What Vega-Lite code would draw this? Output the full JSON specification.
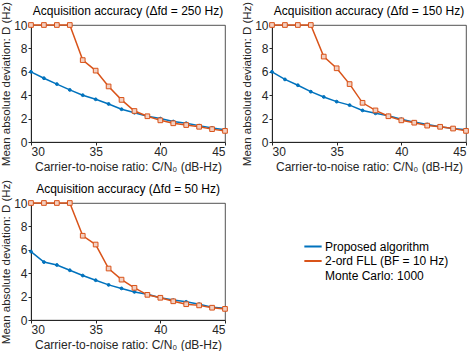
{
  "$schema": "https://vega.github.io/schema/vega-lite/v6.json",
  "padding": 0,
  "background": "white",
  "config": {
    "font": "Liberation Sans",
    "view": {"stroke": "#262626", "strokeWidth": 0.8},
    "axis": {"grid": false, "domainColor": "#262626", "tickColor": "#262626", "labelColor": "#262626", "titleColor": "#262626", "labelFontSize": 12, "titleFontSize": 12, "titleFontWeight": "normal", "tickSize": 3, "labelPadding": 1},
    "axisY": {"titleFontSize": 11.5, "titlePadding": 2},
    "title": {"fontSize": 12, "fontWeight": "normal", "color": "#000000", "offset": 6, "dy": 23},
    "legend": {"labelFontSize": 12, "labelColor": "#000000"}
  },
  "datasets": {
    "d": [
      {"p": "250", "s": "Proposed algorithm", "x": 30, "y": 6.0},
      {"p": "250", "s": "Proposed algorithm", "x": 31, "y": 5.45},
      {"p": "250", "s": "Proposed algorithm", "x": 32, "y": 4.95},
      {"p": "250", "s": "Proposed algorithm", "x": 33, "y": 4.45},
      {"p": "250", "s": "Proposed algorithm", "x": 34, "y": 4.0},
      {"p": "250", "s": "Proposed algorithm", "x": 35, "y": 3.65},
      {"p": "250", "s": "Proposed algorithm", "x": 36, "y": 3.25},
      {"p": "250", "s": "Proposed algorithm", "x": 37, "y": 2.8},
      {"p": "250", "s": "Proposed algorithm", "x": 38, "y": 2.5},
      {"p": "250", "s": "Proposed algorithm", "x": 39, "y": 2.2},
      {"p": "250", "s": "Proposed algorithm", "x": 40, "y": 2.0},
      {"p": "250", "s": "Proposed algorithm", "x": 41, "y": 1.75},
      {"p": "250", "s": "Proposed algorithm", "x": 42, "y": 1.6},
      {"p": "250", "s": "Proposed algorithm", "x": 43, "y": 1.4},
      {"p": "250", "s": "Proposed algorithm", "x": 44, "y": 1.2},
      {"p": "250", "s": "Proposed algorithm", "x": 45, "y": 1.05},
      {"p": "250", "s": "2-ord FLL (BF = 10 Hz)", "x": 30, "y": 10},
      {"p": "250", "s": "2-ord FLL (BF = 10 Hz)", "x": 31, "y": 10},
      {"p": "250", "s": "2-ord FLL (BF = 10 Hz)", "x": 32, "y": 10},
      {"p": "250", "s": "2-ord FLL (BF = 10 Hz)", "x": 33, "y": 10},
      {"p": "250", "s": "2-ord FLL (BF = 10 Hz)", "x": 34, "y": 7.0},
      {"p": "250", "s": "2-ord FLL (BF = 10 Hz)", "x": 35, "y": 6.1},
      {"p": "250", "s": "2-ord FLL (BF = 10 Hz)", "x": 36, "y": 4.75},
      {"p": "250", "s": "2-ord FLL (BF = 10 Hz)", "x": 37, "y": 3.6},
      {"p": "250", "s": "2-ord FLL (BF = 10 Hz)", "x": 38, "y": 2.65},
      {"p": "250", "s": "2-ord FLL (BF = 10 Hz)", "x": 39, "y": 2.2},
      {"p": "250", "s": "2-ord FLL (BF = 10 Hz)", "x": 40, "y": 1.85},
      {"p": "250", "s": "2-ord FLL (BF = 10 Hz)", "x": 41, "y": 1.6},
      {"p": "250", "s": "2-ord FLL (BF = 10 Hz)", "x": 42, "y": 1.45},
      {"p": "250", "s": "2-ord FLL (BF = 10 Hz)", "x": 43, "y": 1.3},
      {"p": "250", "s": "2-ord FLL (BF = 10 Hz)", "x": 44, "y": 1.1},
      {"p": "250", "s": "2-ord FLL (BF = 10 Hz)", "x": 45, "y": 0.95},
      {"p": "150", "s": "Proposed algorithm", "x": 30, "y": 6.0},
      {"p": "150", "s": "Proposed algorithm", "x": 31, "y": 5.35},
      {"p": "150", "s": "Proposed algorithm", "x": 32, "y": 4.85},
      {"p": "150", "s": "Proposed algorithm", "x": 33, "y": 4.3},
      {"p": "150", "s": "Proposed algorithm", "x": 34, "y": 3.85},
      {"p": "150", "s": "Proposed algorithm", "x": 35, "y": 3.45},
      {"p": "150", "s": "Proposed algorithm", "x": 36, "y": 3.15},
      {"p": "150", "s": "Proposed algorithm", "x": 37, "y": 2.7},
      {"p": "150", "s": "Proposed algorithm", "x": 38, "y": 2.45},
      {"p": "150", "s": "Proposed algorithm", "x": 39, "y": 2.25},
      {"p": "150", "s": "Proposed algorithm", "x": 40, "y": 1.95},
      {"p": "150", "s": "Proposed algorithm", "x": 41, "y": 1.7},
      {"p": "150", "s": "Proposed algorithm", "x": 42, "y": 1.5},
      {"p": "150", "s": "Proposed algorithm", "x": 43, "y": 1.3},
      {"p": "150", "s": "Proposed algorithm", "x": 44, "y": 1.15},
      {"p": "150", "s": "Proposed algorithm", "x": 45, "y": 1.05},
      {"p": "150", "s": "2-ord FLL (BF = 10 Hz)", "x": 30, "y": 10},
      {"p": "150", "s": "2-ord FLL (BF = 10 Hz)", "x": 31, "y": 10},
      {"p": "150", "s": "2-ord FLL (BF = 10 Hz)", "x": 32, "y": 10},
      {"p": "150", "s": "2-ord FLL (BF = 10 Hz)", "x": 33, "y": 10},
      {"p": "150", "s": "2-ord FLL (BF = 10 Hz)", "x": 34, "y": 7.3},
      {"p": "150", "s": "2-ord FLL (BF = 10 Hz)", "x": 35, "y": 6.3},
      {"p": "150", "s": "2-ord FLL (BF = 10 Hz)", "x": 36, "y": 4.95},
      {"p": "150", "s": "2-ord FLL (BF = 10 Hz)", "x": 37, "y": 3.35},
      {"p": "150", "s": "2-ord FLL (BF = 10 Hz)", "x": 38, "y": 2.7},
      {"p": "150", "s": "2-ord FLL (BF = 10 Hz)", "x": 39, "y": 2.2},
      {"p": "150", "s": "2-ord FLL (BF = 10 Hz)", "x": 40, "y": 1.85},
      {"p": "150", "s": "2-ord FLL (BF = 10 Hz)", "x": 41, "y": 1.65},
      {"p": "150", "s": "2-ord FLL (BF = 10 Hz)", "x": 42, "y": 1.4},
      {"p": "150", "s": "2-ord FLL (BF = 10 Hz)", "x": 43, "y": 1.3},
      {"p": "150", "s": "2-ord FLL (BF = 10 Hz)", "x": 44, "y": 1.15},
      {"p": "150", "s": "2-ord FLL (BF = 10 Hz)", "x": 45, "y": 0.95},
      {"p": "50", "s": "Proposed algorithm", "x": 30, "y": 5.85},
      {"p": "50", "s": "Proposed algorithm", "x": 31, "y": 4.95},
      {"p": "50", "s": "Proposed algorithm", "x": 32, "y": 4.7},
      {"p": "50", "s": "Proposed algorithm", "x": 33, "y": 4.25},
      {"p": "50", "s": "Proposed algorithm", "x": 34, "y": 3.8},
      {"p": "50", "s": "Proposed algorithm", "x": 35, "y": 3.4},
      {"p": "50", "s": "Proposed algorithm", "x": 36, "y": 3.0},
      {"p": "50", "s": "Proposed algorithm", "x": 37, "y": 2.7},
      {"p": "50", "s": "Proposed algorithm", "x": 38, "y": 2.4},
      {"p": "50", "s": "Proposed algorithm", "x": 39, "y": 2.2},
      {"p": "50", "s": "Proposed algorithm", "x": 40, "y": 1.9},
      {"p": "50", "s": "Proposed algorithm", "x": 41, "y": 1.7},
      {"p": "50", "s": "Proposed algorithm", "x": 42, "y": 1.55},
      {"p": "50", "s": "Proposed algorithm", "x": 43, "y": 1.35},
      {"p": "50", "s": "Proposed algorithm", "x": 44, "y": 1.1},
      {"p": "50", "s": "Proposed algorithm", "x": 45, "y": 1.0},
      {"p": "50", "s": "2-ord FLL (BF = 10 Hz)", "x": 30, "y": 10},
      {"p": "50", "s": "2-ord FLL (BF = 10 Hz)", "x": 31, "y": 10},
      {"p": "50", "s": "2-ord FLL (BF = 10 Hz)", "x": 32, "y": 10},
      {"p": "50", "s": "2-ord FLL (BF = 10 Hz)", "x": 33, "y": 10},
      {"p": "50", "s": "2-ord FLL (BF = 10 Hz)", "x": 34, "y": 7.2},
      {"p": "50", "s": "2-ord FLL (BF = 10 Hz)", "x": 35, "y": 6.45},
      {"p": "50", "s": "2-ord FLL (BF = 10 Hz)", "x": 36, "y": 4.4},
      {"p": "50", "s": "2-ord FLL (BF = 10 Hz)", "x": 37, "y": 3.45},
      {"p": "50", "s": "2-ord FLL (BF = 10 Hz)", "x": 38, "y": 2.75},
      {"p": "50", "s": "2-ord FLL (BF = 10 Hz)", "x": 39, "y": 2.15},
      {"p": "50", "s": "2-ord FLL (BF = 10 Hz)", "x": 40, "y": 1.9},
      {"p": "50", "s": "2-ord FLL (BF = 10 Hz)", "x": 41, "y": 1.6},
      {"p": "50", "s": "2-ord FLL (BF = 10 Hz)", "x": 42, "y": 1.35},
      {"p": "50", "s": "2-ord FLL (BF = 10 Hz)", "x": 43, "y": 1.25},
      {"p": "50", "s": "2-ord FLL (BF = 10 Hz)", "x": 44, "y": 1.05},
      {"p": "50", "s": "2-ord FLL (BF = 10 Hz)", "x": 45, "y": 0.95}
    ]
  },
  "data": {"name": "d"},
  "columns": 2,
  "bounds": "flush",
  "spacing": {"row": 61, "column": 47},
  "resolve": {"legend": {"color": "independent"}},
  "concat": [
    {
      "width": 194, "height": 117,
      "title": "Acquisition accuracy (Δfd = 250 Hz)",
      "transform": [{"filter": "datum.p == '250'"}],
      "encoding": {
        "x": {"field": "x", "type": "quantitative", "scale": {"domain": [30, 45], "nice": false}, "axis": {"values": [30, 35, 40, 45], "title": "Carrier-to-noise ratio: C/N₀ (dB-Hz)"}},
        "y": {"field": "y", "type": "quantitative", "scale": {"domain": [0, 10], "nice": false}, "axis": {"values": [0, 2, 4, 6, 8, 10], "title": "Mean absolute deviation: D (Hz)"}},
        "color": {"field": "s", "type": "nominal", "scale": {"domain": ["Proposed algorithm", "2-ord FLL (BF = 10 Hz)", "Monte Carlo: 1000"], "range": ["#0072BD", "#D95319", "transparent"]}, "legend": null}
      },
      "layer": [
        {"mark": {"type": "line", "strokeWidth": 1.5}},
        {"mark": {"type": "point", "filled": false, "strokeWidth": 1, "opacity": 1}, "encoding": {"shape": {"field": "s", "type": "nominal", "scale": {"domain": ["Proposed algorithm", "2-ord FLL (BF = 10 Hz)"], "range": ["circle", "square"]}, "legend": null}, "fill": {"field": "s", "type": "nominal", "scale": {"domain": ["Proposed algorithm", "2-ord FLL (BF = 10 Hz)"], "range": ["#0072BD", "#F3D0C2"]}, "legend": null}, "size": {"field": "s", "type": "nominal", "scale": {"domain": ["Proposed algorithm", "2-ord FLL (BF = 10 Hz)"], "range": [8, 22]}, "legend": null}}}
      ]
    },
    {
      "width": 194, "height": 117,
      "title": "Acquisition accuracy (Δfd = 150 Hz)",
      "transform": [{"filter": "datum.p == '150'"}],
      "encoding": {
        "x": {"field": "x", "type": "quantitative", "scale": {"domain": [30, 45], "nice": false}, "axis": {"values": [30, 35, 40, 45], "title": "Carrier-to-noise ratio: C/N₀ (dB-Hz)"}},
        "y": {"field": "y", "type": "quantitative", "scale": {"domain": [0, 10], "nice": false}, "axis": {"values": [0, 2, 4, 6, 8, 10], "title": "Mean absolute deviation: D (Hz)"}},
        "color": {"field": "s", "type": "nominal", "scale": {"domain": ["Proposed algorithm", "2-ord FLL (BF = 10 Hz)", "Monte Carlo: 1000"], "range": ["#0072BD", "#D95319", "transparent"]}, "legend": null}
      },
      "layer": [
        {"mark": {"type": "line", "strokeWidth": 1.5}},
        {"mark": {"type": "point", "filled": false, "strokeWidth": 1, "opacity": 1}, "encoding": {"shape": {"field": "s", "type": "nominal", "scale": {"domain": ["Proposed algorithm", "2-ord FLL (BF = 10 Hz)"], "range": ["circle", "square"]}, "legend": null}, "fill": {"field": "s", "type": "nominal", "scale": {"domain": ["Proposed algorithm", "2-ord FLL (BF = 10 Hz)"], "range": ["#0072BD", "#F3D0C2"]}, "legend": null}, "size": {"field": "s", "type": "nominal", "scale": {"domain": ["Proposed algorithm", "2-ord FLL (BF = 10 Hz)"], "range": [8, 22]}, "legend": null}}}
      ]
    },
    {
      "width": 194, "height": 117,
      "title": "Acquisition accuracy (Δfd = 50 Hz)",
      "transform": [{"filter": "datum.p == '50'"}],
      "encoding": {
        "x": {"field": "x", "type": "quantitative", "scale": {"domain": [30, 45], "nice": false}, "axis": {"values": [30, 35, 40, 45], "title": "Carrier-to-noise ratio: C/N₀ (dB-Hz)"}},
        "y": {"field": "y", "type": "quantitative", "scale": {"domain": [0, 10], "nice": false}, "axis": {"values": [0, 2, 4, 6, 8, 10], "title": "Mean absolute deviation: D (Hz)"}},
        "color": {"field": "s", "type": "nominal", "scale": {"domain": ["Proposed algorithm", "2-ord FLL (BF = 10 Hz)", "Monte Carlo: 1000"], "range": ["#0072BD", "#D95319", "transparent"]}, "legend": {"title": null, "orient": "none", "legendX": 272, "legendY": 37, "symbolType": "stroke", "symbolSize": 300, "symbolStrokeWidth": 2, "rowPadding": 1.5, "clipHeight": 13, "labelOffset": 2}}
      },
      "layer": [
        {"mark": {"type": "line", "strokeWidth": 1.5}},
        {"mark": {"type": "point", "filled": false, "strokeWidth": 1, "opacity": 1}, "encoding": {"shape": {"field": "s", "type": "nominal", "scale": {"domain": ["Proposed algorithm", "2-ord FLL (BF = 10 Hz)"], "range": ["circle", "square"]}, "legend": null}, "fill": {"field": "s", "type": "nominal", "scale": {"domain": ["Proposed algorithm", "2-ord FLL (BF = 10 Hz)"], "range": ["#0072BD", "#F3D0C2"]}, "legend": null}, "size": {"field": "s", "type": "nominal", "scale": {"domain": ["Proposed algorithm", "2-ord FLL (BF = 10 Hz)"], "range": [8, 22]}, "legend": null}}}
      ]
    }
  ]
}
